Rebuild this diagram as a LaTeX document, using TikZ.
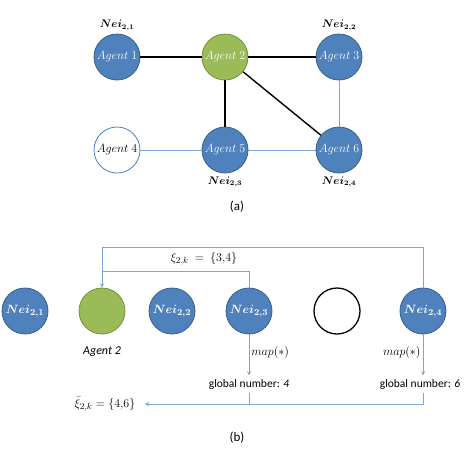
\documentclass[tikz,border=0pt]{standalone}
\usepackage{amsmath, amssymb}
\usepackage{fontspec}
\setmainfont{Carlito}
\usetikzlibrary{arrows, positioning}
\definecolor{agblue}{HTML}{4F81BD}
\definecolor{agedge}{HTML}{3A5F8B}
\definecolor{aggreen}{HTML}{9BBB59}
\definecolor{aggreenedge}{HTML}{76923C}
\definecolor{linkblue}{HTML}{7FA5D2}
\tikzset{
    agent/.style={circle, draw=agedge, fill=agblue, minimum size=46pt, inner sep=0pt, text=white, line width=0.8pt, font=\fontsize{13}{15}\selectfont},
    nei/.style={agent, font=\fontsize{13}{15}\selectfont\boldmath},
    self/.style={agent, draw=aggreenedge, fill=aggreen},
    idle/.style={agent, draw=agblue, fill=white, text=black},
    blank/.style={agent, draw=black, fill=white, line width=1.3pt},
    tag/.style={font=\fontsize{10.5}{12}\selectfont\boldmath, inner sep=1pt},
    strong/.style={draw=black, line width=1.4pt},
    weak/.style={draw=linkblue, line width=0.9pt},
    flow/.style={->, >=stealth, draw=linkblue, line width=0.9pt},
    caption/.style={font=\fontsize{13}{15}\selectfont},
    txt/.style={font=\fontsize{11.5}{14}\selectfont},
    mth/.style={font=\fontsize{12.5}{14}\selectfont}
}

\begin{document}
\begin{tikzpicture}[x=1pt, y=-1pt]
  \useasboundingbox (0,0) rectangle (474,448);

  % (a) neighbourhood of agent 2
  \node[agent] (a1) at (117,57) {$Agent~1$};
  \node[self]  (a2) at (225,57) {$Agent~2$};
  \node[agent] (a3) at (339,57) {$Agent~3$};
  \node[idle]  (a4) at (117,150) {$Agent~4$};
  \node[agent] (a5) at (225,150) {$Agent~5$};
  \node[agent] (a6) at (339,150) {$Agent~6$};

  \node[tag, above=2pt of a1] {$Nei_{2,1}$};
  \node[tag, above=2pt of a3] {$Nei_{2,2}$};
  \node[tag, below=2pt of a5] {$Nei_{2,3}$};
  \node[tag, below=2pt of a6] {$Nei_{2,4}$};

  \draw[strong] (a1) -- (a2);
  \draw[strong] (a2) -- (a3);
  \draw[strong] (a2) -- (a5);
  \draw[strong] (a2) -- (a6);
  \draw[weak] (a3) -- (a6);
  \draw[weak] (a4) -- (a5);
  \draw[weak] (a5) -- (a6);

  \node[caption] (capa) at (237,207) {(a)};

  % (b) mapping local to global numbers
  \node[nei]   (n21) at (25,311) {$Nei_{2,1}$};
  \node[self]  (g2)  at (102,311) {};
  \node[nei]   (n22) at (172,311) {$Nei_{2,2}$};
  \node[nei]   (n23) at (249,311) {$Nei_{2,3}$};
  \node[blank] (w4)  at (337,311) {};
  \node[nei]   (n24) at (423,311) {$Nei_{2,4}$};
  \node[txt, font=\fontsize{12}{14}\selectfont\itshape] (g2lab) at (102,352) {Agent 2};

  \coordinate (fbtop) at (102,247);
  \coordinate (fbmid) at (102,271);
  \draw[weak] (n24.north) |- (fbtop);
  \draw[weak] (n23.north) |- (fbmid);
  \draw[flow] (fbtop) -- (g2.north);
  \node[mth] (xi) at (204,259) {$\xi_{2,k}~=~\{3{,}4\}$};

  \node[txt] (gn4) at (249,384) {global number: \textit{4}};
  \node[txt] (gn6) at (420,384) {global number: \textit{6}};
  \draw[flow] (n23.south) -- node[right, pos=0.43, mth, inner sep=2pt] {$map(*)$} (gn4.north);
  \draw[flow] (n24.south) -- node[left, pos=0.43, mth, inner sep=2pt] {$map(*)$} (n24.south |- gn4.north);

  \node[mth] (xibar) at (105,404) {$\bar{\xi}_{2,k}=\{4{,}6\}$};
  \draw[weak] (gn4.south) -- (gn4.south |- xibar);
  \draw[flow, shorten >=6pt] (n24 |- gn6.south) |- (xibar.east);

  \node[caption] (capb) at (237,438) {(b)};
\end{tikzpicture}
\end{document}
